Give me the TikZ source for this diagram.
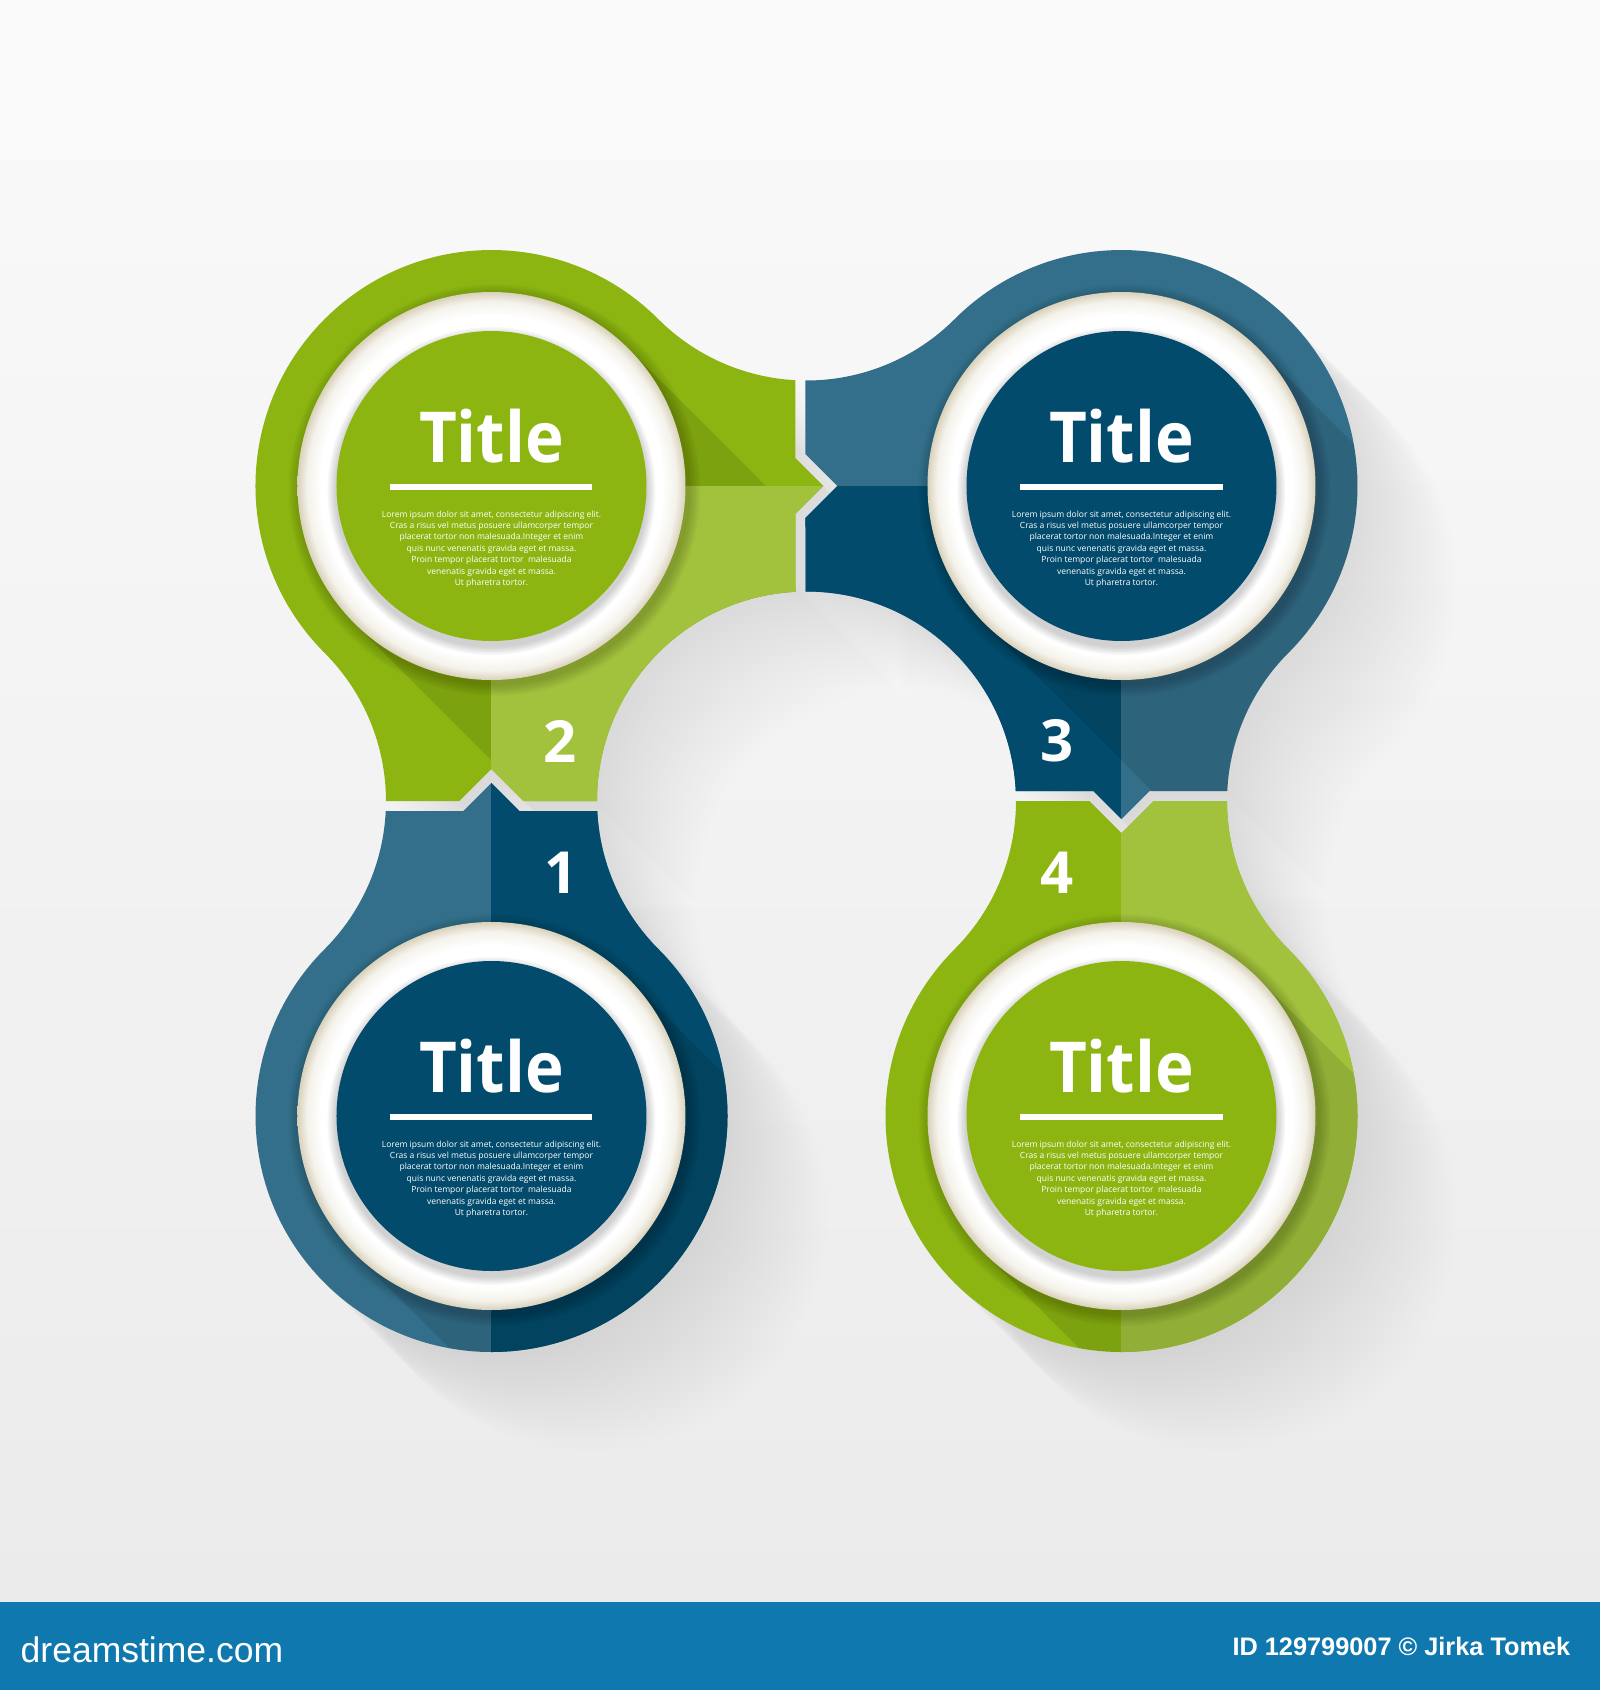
\documentclass[tikz,border=0pt]{standalone}
\usepackage{fontspec}
\setmainfont{Open Sans}
\newfontfamily\titlefont[FakeStretch=0.93]{Open Sans}
\newfontfamily\footfont{Liberation Sans}
\usetikzlibrary{calc}

\definecolor{grnA}{HTML}{8CB511}
\definecolor{grnB}{HTML}{A2C23D}
\definecolor{bluA}{HTML}{336F8A}
\definecolor{bluB}{HTML}{034B6C}
\definecolor{bgtop}{HTML}{FAFAFA}
\definecolor{bgbot}{HTML}{EBEBEB}
\definecolor{footblue}{HTML}{0F78AE}
\definecolor{ringout}{HTML}{D9D1BA}
\definecolor{ringmid}{HTML}{F4F2EB}

\pgfdeclareradialshading{ring}{\pgfpoint{0bp}{0bp}}{color(0bp)=(white); color(22bp)=(white); color(23.8bp)=(ringmid); color(25bp)=(ringout); color(50bp)=(ringout)}

% outlines of the four pieces (1 px = 0.01cm, origin in the middle of the chain)
\newcommand\pathone{(-420.74,-10) arc[start angle=-2.74, end angle=-45, radius=209.5]
  arc[start angle=135, end angle=405, radius=236]
  arc[start angle=225, end angle=182.74, radius=209.5]
  -- (-287,-10) -- (-315,18) -- (-343,-10) -- cycle}
\newcommand\pathtwo{(-11,420.79) arc[start angle=266.99, end angle=225, radius=209.5]
  arc[start angle=45, end angle=225, radius=236]
  arc[start angle=45, end angle=0, radius=209.5]
  -- (-347,0) -- (-315,32) -- (-283,0) -- (-209.5,0)
  arc[start angle=180, end angle=93.01, radius=209.5]
  -- (-11,287) -- (17,315) -- (-11,343) -- cycle}
\newcommand\paththree{(-1,420.5) arc[start angle=269.73, end angle=315, radius=209.5]
  arc[start angle=135, end angle=-45, radius=236]
  arc[start angle=135, end angle=177.26, radius=209.5]
  -- (343,10) -- (315,-18) -- (287,10) -- (209.26,10)
  arc[start angle=2.74, end angle=90.27, radius=209.5]
  -- (-1,283) -- (31,315) -- (-1,347) -- cycle}
\newcommand\pathfour{(209.5,0) arc[start angle=0, end angle=-45, radius=209.5]
  arc[start angle=135, end angle=405, radius=236]
  arc[start angle=225, end angle=180, radius=209.5]
  -- (347,0) -- (315,-32) -- (283,0) -- cycle}

\newcommand\loremtext{Lorem ipsum dolor sit amet, consectetur adipiscing elit.\\
Cras a risus vel metus posuere ullamcorper tempor\\
placerat tortor non malesuada.Integer et enim\\
quis nunc venenatis gravida eget et massa.\\
Proin tempor placerat tortor\ \ malesuada\\
venenatis gravida eget et massa.\\
Ut pharetra tortor.}

% ring, inner disc and texts of one piece
\newcommand\ringdisc[3]{%
  \foreach \k in {1,...,8}
    \fill[black, opacity=0.025] ($(#1)+(3,-4)$) circle[radius=194+1.5*\k];
  \shade[shading=ring] (#1) circle[radius=194];
  \foreach \k in {1,...,6}
    \fill[black, opacity=0.03] ($(#1)+(0,-5)$) circle[radius=155+1.5*\k];
  \fill[#2] (#1) circle[radius=155];
  \node[ttl] (t#3) at ($(#1)+(0,24)$) {Title};
  \draw[titleline] ($(#1)+(-101,-1)$) -- ($(#1)+(101,-1)$);
  \node[body] (b#3) at ($(#1)+(0,-24)$) {\loremtext};
}

\begin{document}
\begin{tikzpicture}[x=0.01cm, y=0.01cm,
    ttl/.style={anchor=base, text=white, inner sep=0pt, font=\titlefont\bfseries\fontsize{20}{24}\selectfont},
    body/.style={anchor=north, text=white, inner sep=0pt, align=center, font=\fontsize{2.42}{3.24}\selectfont},
    num/.style={text=white, inner sep=0pt, font=\bfseries\fontsize{16.5}{18}\selectfont},
    foot/.style={text=white, inner sep=0pt},
    titleline/.style={white, line width=0.06cm},
    band/.style={black, opacity=0.1}]

    \useasboundingbox (-806.5,-889) rectangle (793.5,801);
    \shade[top color=bgtop, bottom color=bgbot] (-806.5,-801) rectangle (793.5,801);
    \fill[footblue] (-806.5,-889) rectangle (793.5,-801);

    \coordinate (c1) at (-315,-315);
    \coordinate (c2) at (-315,315);
    \coordinate (c3) at (315,315);
    \coordinate (c4) at (315,-315);

    % soft long shadow
    \foreach \k in {1,...,25}
        \fill[black, opacity=0.004, shift={(4*\k,-4*\k)}] \pathone \pathtwo \paththree \pathfour;

    % piece 1
    \fill[bluA] \pathone;
    \begin{scope}
        \clip \pathone;
        \fill[bluB] (-315,-600) rectangle (0,50);
        \fill[band] ($(c1)+(137.2,137.2)$) -- ++(700,-700) -- ++(-274.4,-274.4) -- ($(c1)+(-137.2,-137.2)$) -- cycle;
    \end{scope}
    \ringdisc{c1}{bluB}{1}

    % piece 2
    \fill[grnA] \pathtwo;
    \begin{scope}
        \clip \pathtwo;
        \fill[band] ($(c2)+(137.2,137.2)$) -- ++(700,-700) -- ++(-274.4,-274.4) -- ($(c2)+(-137.2,-137.2)$) -- cycle;
        \fill[grnB] (c2) rectangle (100,-50);
    \end{scope}
    \ringdisc{c2}{grnA}{2}

    % piece 3
    \fill[bluA] \paththree;
    \begin{scope}
        \clip \paththree;
        \fill[bluB] (c3) rectangle (-100,-50);
        \fill[band] ($(c3)+(137.2,137.2)$) -- ++(700,-700) -- ++(-274.4,-274.4) -- ($(c3)+(-137.2,-137.2)$) -- cycle;
    \end{scope}
    \ringdisc{c3}{bluB}{3}

    % piece 4
    \fill[grnA] \pathfour;
    \begin{scope}
        \clip \pathfour;
        \fill[grnB] (315,-600) rectangle (600,50);
        \fill[band] ($(c4)+(137.2,137.2)$) -- ++(700,-700) -- ++(-274.4,-274.4) -- ($(c4)+(-137.2,-137.2)$) -- cycle;
    \end{scope}
    \ringdisc{c4}{grnA}{4}

    \node[num] (n1) at (-245.5,-72) {1};
    \node[num] (n2) at (-246.5,60) {2};
    \node[num] (n3) at (250.5,60) {3};
    \node[num] (n4) at (250.5,-72) {4};

    \node[foot, anchor=west, font=\footfont\fontsize{10.1}{12}\selectfont] (logo) at (-786.5,-849) {dreamstime.com};
    \node[foot, anchor=east, font=\footfont\bfseries\fontsize{7.2}{9}\selectfont] (credit) at (764.5,-845) {ID 129799007 © Jirka Tomek};
\end{tikzpicture}
\end{document}
